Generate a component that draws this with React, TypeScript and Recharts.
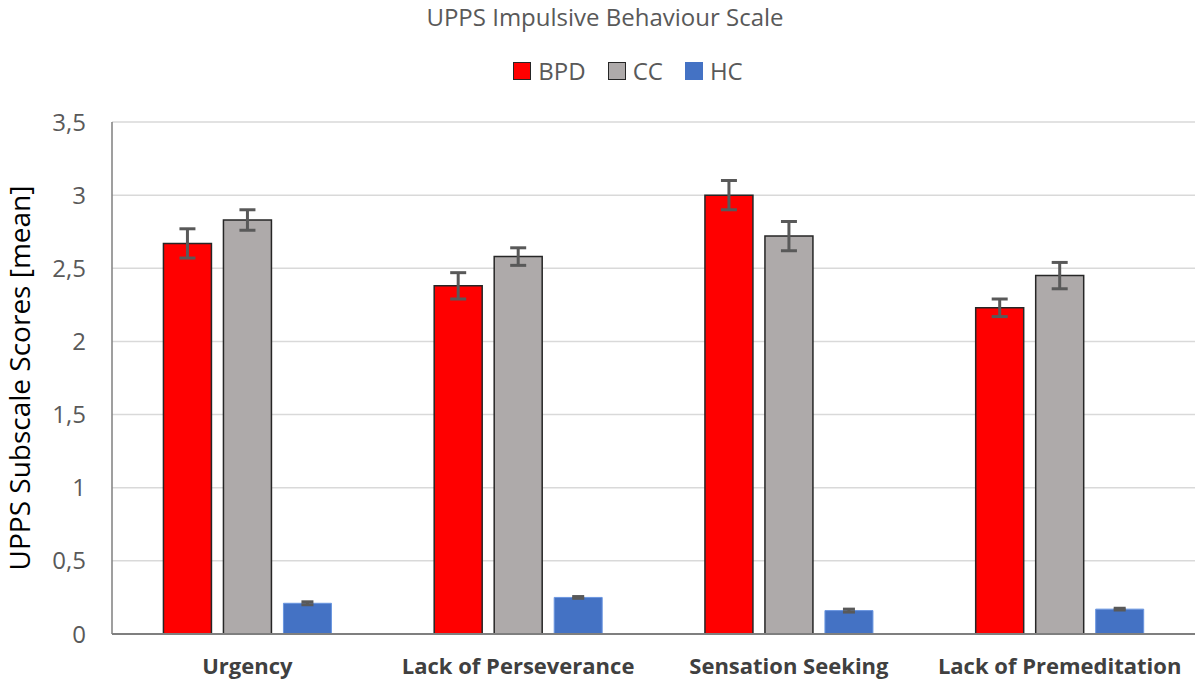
import React from 'react';
import { BarChart, Bar, XAxis, YAxis, CartesianGrid, ErrorBar } from 'recharts';

const subscales = ['Urgency', 'Lack of Perseverance', 'Sensation Seeking', 'Lack of Premeditation'];
const bpd = [2.67, 2.38, 3.0, 2.23];
const bpdErr = [0.1, 0.09, 0.1, 0.06];
const cc = [2.83, 2.58, 2.72, 2.45];
const ccErr = [0.07, 0.06, 0.1, 0.09];
const hc = [0.21, 0.25, 0.16, 0.17];
const hcErr = [0.01, 0.006, 0.01, 0.006];
const yTicks = [0, 0.5, 1, 1.5, 2, 2.5, 3, 3.5];

const legendItems = [
  { name: 'BPD', fill: '#FF0000', stroke: '#262626' },
  { name: 'CC', fill: '#AEAAAA', stroke: '#262626' },
  { name: 'HC', fill: '#4472C4', stroke: '#4472C4' },
];

const data = subscales.map((name, i) => ({
  name,
  BPD: bpd[i],
  bpdErr: bpdErr[i],
  CC: cc[i],
  ccErr: ccErr[i],
  HC: hc[i],
  hcErr: hcErr[i],
}));

const font = '"Open Sans", "Liberation Sans", sans-serif';

const YLabel = (props: any) => {
  const { viewBox } = props;
  const cy = viewBox.y + viewBox.height / 2;
  return (
    <text
      x={19}
      y={cy}
      transform={`rotate(-90, 19, ${cy})`}
      textAnchor="middle"
      dominantBaseline="central"
      style={{ fontFamily: font, fontSize: 28, fill: '#000' }}
    >
      UPPS Subscale Scores [mean]
    </text>
  );
};

const App: React.FC = () => {
  return (
    <div style={{ position: 'absolute', left: 0, top: 0, width: 1200, height: 686, background: '#fff' }}>
      <div
        style={{
          position: 'absolute',
          top: 0,
          left: 0,
          width: 1210,
          textAlign: 'center',
          fontFamily: font,
          fontSize: 24,
          color: '#595959',
        }}
      >
        UPPS Impulsive Behaviour Scale
      </div>
      <div
        style={{
          position: 'absolute',
          top: 54,
          left: 0,
          width: 1256,
          display: 'flex',
          justifyContent: 'center',
          gap: 22,
          fontFamily: font,
          fontSize: 24,
          color: '#595959',
        }}
      >
        {legendItems.map((p) => (
          <div key={p.name} style={{ display: 'flex', alignItems: 'center', gap: 7 }}>
            <span
              style={{
                display: 'inline-block',
                width: 16,
                height: 16,
                background: p.fill,
                border: `1.5px solid ${p.stroke}`,
              }}
            />
            <span>{p.name}</span>
          </div>
        ))}
      </div>
      <BarChart
        width={1200}
        height={686}
        data={data}
        margin={{ top: 122, right: 5, left: 0, bottom: 0 }}
        barCategoryGap="19%"
        barGap={12}
      >
        <CartesianGrid vertical={false} stroke="#D9D9D9" strokeWidth={1.5} />
        <XAxis
          dataKey="name"
          height={52}
          axisLine={{ stroke: '#7F7F7F', strokeWidth: 2 }}
          tickLine={false}
          tick={{ fontFamily: font, fontSize: 22, fontWeight: 'bold', fill: '#404040' }}
          tickMargin={18}
        />
        <YAxis
          width={112}
          domain={[0, 3.5]}
          ticks={yTicks}
          axisLine={{ stroke: '#7F7F7F', strokeWidth: 1.5 }}
          tickLine={false}
          tickMargin={20}
          tickFormatter={(v: number) => String(v).replace('.', ',')}
          tick={{ fontFamily: font, fontSize: 24, fill: '#595959' }}
          label={<YLabel />}
        />
        <Bar dataKey="BPD" fill="#FF0000" stroke="#262626" strokeWidth={1.5} isAnimationActive={false}>
          <ErrorBar dataKey="bpdErr" stroke="#595959" strokeWidth={3} width={8} />
        </Bar>
        <Bar dataKey="CC" fill="#AEAAAA" stroke="#262626" strokeWidth={1.5} isAnimationActive={false}>
          <ErrorBar dataKey="ccErr" stroke="#595959" strokeWidth={3} width={8} />
        </Bar>
        <Bar dataKey="HC" fill="#4472C4" stroke="#6A96E0" strokeWidth={1} isAnimationActive={false}>
          <ErrorBar dataKey="hcErr" stroke="#595959" strokeWidth={3} width={6} />
        </Bar>
      </BarChart>
    </div>
  );
};

export default App;
